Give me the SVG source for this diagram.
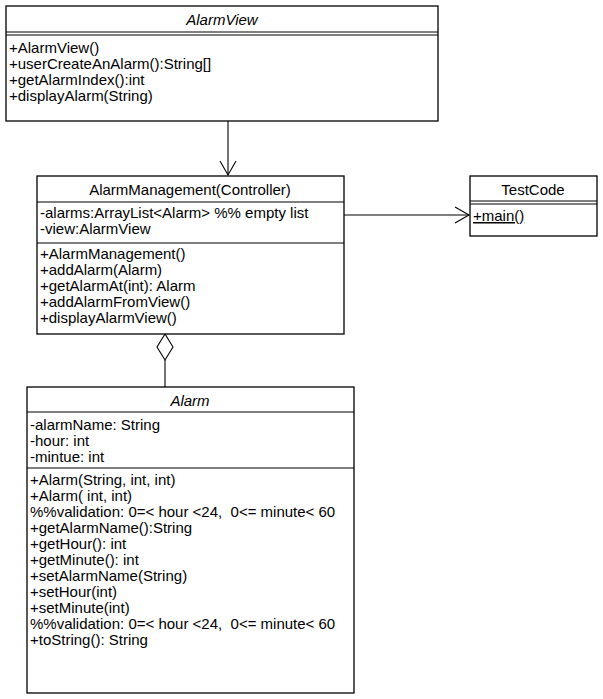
<svg xmlns="http://www.w3.org/2000/svg" width="603" height="699" viewBox="0 0 603 699">
<style>
.box{fill:#fff;stroke:#000;stroke-width:1.3}
.ln{stroke:#000;stroke-width:1.1;fill:none}
text{font-family:"Liberation Sans",Arial,sans-serif;font-size:15px;fill:#000}
.t{text-anchor:middle}
.i{font-style:italic}
</style>
<rect width="603" height="699" fill="#fff"/>
<g id="connectors">
<line class="ln" x1="228" y1="121" x2="228" y2="175"/>
<polyline class="ln" points="220,161 228,175 236,161"/>
<line class="ln" x1="344" y1="215" x2="469" y2="215"/>
<polyline class="ln" points="455,207 469,215 455,223"/>
<line class="ln" x1="165" y1="360" x2="165" y2="387"/>
<polygon points="165,334 173,347 165,360 157,347" fill="#fff" stroke="#000" stroke-width="1.1"/>
</g>
<g id="AlarmView">
<rect class="box" x="6" y="6" width="432" height="115"/>
<line class="ln" x1="6" y1="32" x2="438" y2="32"/>
<line class="ln" x1="6" y1="35" x2="438" y2="35"/>
<text class="t i" x="222" y="25">AlarmView</text>
<text x="9" y="53">+AlarmView()</text>
<text x="9" y="69">+userCreateAnAlarm():String[]</text>
<text x="9" y="85">+getAlarmIndex():int</text>
<text x="9" y="101">+displayAlarm(String)</text>
</g>
<g id="AlarmManagement">
<rect class="box" x="37" y="176" width="307" height="158"/>
<line class="ln" x1="37" y1="202" x2="344" y2="202"/>
<line class="ln" x1="37" y1="243" x2="344" y2="243"/>
<text class="t" x="190" y="195">AlarmManagement(Controller)</text>
<text x="40" y="218">-alarms:ArrayList&lt;Alarm&gt; %% empty list</text>
<text x="40" y="234">-view:AlarmView</text>
<text x="40" y="259">+AlarmManagement()</text>
<text x="40" y="275">+addAlarm(Alarm)</text>
<text x="40" y="291">+getAlarmAt(int): Alarm</text>
<text x="40" y="307">+addAlarmFromView()</text>
<text x="40" y="323">+displayAlarmView()</text>
</g>
<g id="TestCode">
<rect class="box" x="470" y="176" width="127" height="60"/>
<line class="ln" x1="470" y1="201" x2="597" y2="201"/>
<line class="ln" x1="470" y1="204" x2="597" y2="204"/>
<text class="t" x="533" y="195">TestCode</text>
<text x="473" y="221" text-decoration="underline">+main()</text>
</g>
<g id="Alarm">
<rect class="box" x="27" y="387" width="327" height="306"/>
<line class="ln" x1="27" y1="412" x2="354" y2="412"/>
<line class="ln" x1="27" y1="468" x2="354" y2="468"/>
<text class="t i" x="190" y="406">Alarm</text>
<text x="30" y="430">-alarmName: String</text>
<text x="30" y="446">-hour: int</text>
<text x="30" y="462">-mintue: int</text>
<text x="30" y="485">+Alarm(String, int, int)</text>
<text x="30" y="501">+Alarm( int, int)</text>
<text x="30" y="517" xml:space="preserve">%%validation: 0=&lt; hour &lt;24,  0&lt;= minute&lt; 60</text>
<text x="30" y="533">+getAlarmName():String</text>
<text x="30" y="549">+getHour(): int</text>
<text x="30" y="565">+getMinute(): int</text>
<text x="30" y="581">+setAlarmName(String)</text>
<text x="30" y="597">+setHour(int)</text>
<text x="30" y="613">+setMinute(int)</text>
<text x="30" y="629" xml:space="preserve">%%validation: 0=&lt; hour &lt;24,  0&lt;= minute&lt; 60</text>
<text x="30" y="645">+toString(): String</text>
</g>
</svg>
